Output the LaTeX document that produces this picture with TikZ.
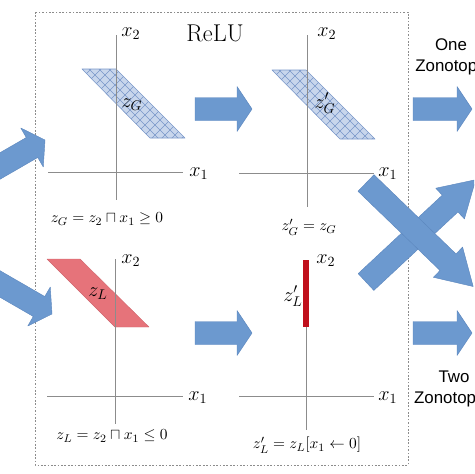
\documentclass[tikz,border=0pt]{standalone}
\usepackage{fontspec}
\newfontfamily\zonofont{Liberation Sans}
\definecolor{arrowblue}{RGB}{108,153,207}
\definecolor{arrowedge}{RGB}{92,135,190}
\definecolor{axisgray}{RGB}{140,140,140}
\definecolor{hatchfill}{RGB}{200,214,236}
\definecolor{hatchline}{RGB}{120,150,200}
\definecolor{lowerred}{RGB}{230,115,122}
\definecolor{lowerline}{RGB}{192,16,28}
% block arrow: tail x, tail y, angle, length, head length, head half width
\newcommand{\blockarrow}[6]{%
  \begin{scope}[shift={(#1,#2)},rotate=#3]
  \filldraw[arrowfill] (0,-11.5) -- ({#4-#5},-11.5) -- ({#4-#5},-#6) -- (#4,0)
    -- ({#4-#5},#6) -- ({#4-#5},11.5) -- (0,11.5) -- cycle;
  \end{scope}}
\begin{document}
\begin{tikzpicture}[x=0.25mm,y=-0.25mm,line join=round,
  axis/.style={draw=axisgray,line width=0.5pt},
  arrowfill/.style={fill=arrowblue,draw=arrowedge,line width=0.3pt},
  axlabel/.style={font=\Large,inner sep=0pt,anchor=west},
  setlabel/.style={font=\Large,inner sep=0pt},
  eqlabel/.style={font=\fontsize{11}{13}\selectfont,inner sep=0pt},
  zonolabel/.style={font=\zonofont\fontsize{12}{14.5}\selectfont,align=center,inner sep=0pt}]
	\useasboundingbox (0,0) rectangle (474,474);
	\clip (0,0) rectangle (474,474);
	% frame of the ReLU step
	\draw[axisgray,line width=0.4pt,dash pattern=on 1.2pt off 1.2pt] (35,12) rectangle (408,465);
	\node[font=\LARGE,inner sep=0pt] (relu) at (215,33) {ReLU};
	% arrows
	\blockarrow{-15.6}{175}{30}{70}{15}{22.5}
	\blockarrow{-8.6}{279}{-30}{70}{15}{22.5}
	\blockarrow{195}{109}{0}{57}{15}{22.5}
	\blockarrow{195}{333}{0}{57}{15}{22.5}
	\blockarrow{413}{109}{0}{59}{15}{22.5}
	\blockarrow{413}{333}{0}{59}{15}{22.5}
	\blockarrow{366}{282}{43}{150}{35}{21}
	\blockarrow{366}{183}{-44}{149}{35}{21}
	% hatched sets z_G and z'_G
	\foreach \dx/\dy in {0/0,190/1}{
	\begin{scope}[shift={(\dx,\dy)}]
	\begin{scope}
	\clip (82,69) -- (116,69) -- (185,138) -- (150,138) -- cycle;
	\fill[hatchfill] (70,60) rectangle (200,150);
	\foreach \i in {-10,0,...,280}
	\draw[hatchline,line width=0.3pt] (\i,50) -- ++(100,100) (\i,50) -- ++(-100,100);
	\end{scope}
	\draw[hatchline,line width=0.4pt] (82,69) -- (116,69) -- (185,138) -- (150,138) -- cycle;
	\end{scope}
	}
	% set z_L
	\filldraw[fill=lowerred,draw=lowerred!90!black,line width=0.3pt]
	(47,259) -- (80,259) -- (149,327) -- (115,327) -- cycle;
	\draw[lowerline,line width=3.6pt] (306,260) -- (306,327);
	% axes
	\draw[axis] (116,35) -- (116,200) (48,172) -- (183,172);
	\draw[axis] (307,35) -- (307,207) (239,173) -- (374,173);
	\draw[axis] (115,259) -- (115,424) (47,396) -- (183,396);
	\draw[axis] (306,327) -- (306,430) (239,396) -- (374,396);
	\node[axlabel] (tlx2) at (121,34) {$x_2$};
	\node[axlabel] (tlx1) at (189,174) {$x_1$};
	\node[axlabel] (trx2) at (317,34) {$x_2$};
	\node[axlabel] (trx1) at (378,174) {$x_1$};
	\node[axlabel] (blx2) at (121,261) {$x_2$};
	\node[axlabel] (blx1) at (188,398) {$x_1$};
	\node[axlabel] (brx2) at (316,261) {$x_2$};
	\node[axlabel] (brx1) at (378,398) {$x_1$};
	% set labels
	\node[setlabel] (zG) at (132,105) {$z_G$};
	\node[setlabel] (zGp) at (325,103) {$z'_G$};
	\node[setlabel] (zL) at (98,294) {$z_L$};
	\node[setlabel] (zLp) at (293,296) {$z'_L$};
	\node[eqlabel] (eqG) at (107,219) {$z_G=z_2\sqcap x_1\geq 0$};
	\node[eqlabel] (eqGp) at (309,227) {$z'_G=z_G$};
	\node[eqlabel] (eqL) at (112,436) {$z_L=z_2\sqcap x_1\leq 0$};
	\node[eqlabel] (eqLp) at (307,445) {$z'_L=z_L[x_1\leftarrow 0]$};
	\node[zonolabel] (one) at (451,57) {One\\Zonotope};
	\node[zonolabel] (two) at (454,389) {Two\\Zonotopes};
\end{tikzpicture}
\end{document}
